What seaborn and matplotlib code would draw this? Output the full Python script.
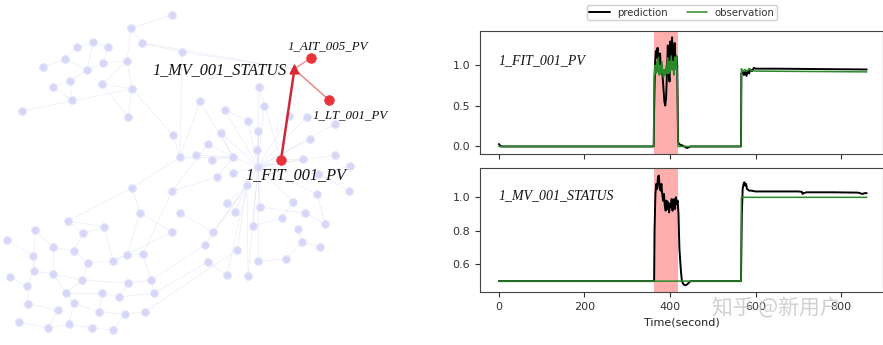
import numpy as np
import pandas as pd
import matplotlib
matplotlib.use("Agg")
import matplotlib.pyplot as plt
from matplotlib.collections import LineCollection
import seaborn as sns

sns.set_style("ticks")
plt.rcParams['font.family'] = ['DejaVu Sans']

# ---------------- network data (image-space coordinates) ----------------
node_x = [172, 131, 77, 93, 108, 142, 65, 43, 103, 127, 87, 70, 53, 102, 132, 72, 22, 128, 182, 173,
          259, 200, 264, 225, 289, 307, 248, 335, 221, 258, 310, 208, 257, 180, 196, 212, 233, 303, 335, 350,
          258, 217, 233, 247, 318, 317, 349, 132, 172, 140, 180, 227, 235, 260, 293, 305, 282, 253, 325, 298,
          172, 213, 302, 320, 205, 237, 208, 258, 286, 227, 248,
          68, 104, 35, 83, 7, 53, 74, 33, 88, 113, 127, 143, 34, 53, 10, 82, 128, 151, 27, 66,
          102, 119, 154, 28, 74, 58, 99, 125, 145, 19, 48, 69, 92, 113]
node_y = [15, 28, 47, 42, 47, 43, 59, 67, 63, 61, 70, 81, 87, 84, 89, 100, 111, 117, 52, 135,
          87, 101, 106, 110, 116, 117, 121, 124, 133, 131, 139, 144, 150, 157, 155, 160, 157, 159, 155, 166,
          167, 177, 173, 185, 174, 194, 191, 188, 191, 213, 213, 203, 212, 207, 202, 213, 218, 226, 224, 229,
          232, 232, 242, 247, 245, 250, 262, 261, 259, 275, 276,
          221, 227, 230, 233, 240, 247, 251, 256, 263, 261, 255, 254, 271, 274, 277, 280, 283, 280, 286, 293,
          293, 297, 293, 304, 303, 310, 312, 314, 312, 322, 328, 324, 328, 330]
edges = [(0, 1), (1, 5), (1, 9), (2, 3), (3, 4), (2, 6), (6, 7), (6, 10), (8, 9), (8, 10), (10, 11),
         (11, 12), (11, 15), (13, 14), (9, 14), (14, 17), (13, 17), (16, 14), (14, 19), (19, 33), (18, 33),
         (4, 8), (3, 10), (12, 15), (5, 18), (9, 13),
         (40, 20), (40, 22), (40, 23), (40, 26), (40, 28), (40, 29), (40, 32), (40, 36), (40, 37), (40, 42),
         (40, 43), (40, 44), (40, 45), (40, 53), (40, 54), (40, 57), (40, 67), (40, 70), (40, 30), (40, 24),
         (40, 25), (40, 38), (40, 27), (36, 31), (36, 34), (36, 35), (36, 33), (36, 41), (36, 21), (36, 28),
         (43, 51), (43, 52), (43, 61), (43, 64), (43, 65), (43, 69), (43, 70), (32, 29), (26, 23),
         (44, 46), (44, 39), (55, 58), (54, 56), (59, 62), (62, 63), (45, 58), (56, 57), (53, 55),
         (47, 71), (48, 82), (49, 81), (60, 80), (50, 61), (33, 47), (41, 48), (64, 88), (66, 93),
         (65, 99), (49, 60), (21, 33), (31, 48), (47, 49), (68, 62), (67, 68), (66, 69),
         (71, 72), (71, 74), (73, 76), (74, 77), (75, 78), (76, 77), (77, 79), (78, 83), (79, 80), (80, 81),
         (81, 82), (82, 88), (83, 84), (84, 86), (85, 89), (86, 87), (87, 88), (88, 93), (89, 94), (90, 91),
         (91, 92), (92, 93), (94, 96), (95, 97), (96, 101), (97, 98), (98, 99), (100, 101), (101, 102),
         (102, 103), (103, 104), (72, 80), (76, 84), (79, 86), (86, 90), (90, 95), (95, 102), (87, 92),
         (91, 97), (98, 104), (73, 83), (72, 74), (83, 89), (84, 90)]

red_names = ["1_AIT_005_PV", "1_MV_001_STATUS", "1_LT_001_PV", "1_FIT_001_PV"]
red_x = [311, 294, 329, 281]
red_y = [58, 69, 100, 160]

# ---------------- time-series data ----------------
noise_t = [363, 365, 367, 369, 371, 373, 375, 377, 379, 381, 383, 385, 387, 389,
           391, 393, 395, 397, 399, 401, 403, 405, 407, 409, 411, 413, 415, 417]
fit_pred_noise = [0.45, 1.0, 1.18, 1.1, 1.22, 1.05, 0.95, 1.15, 0.9, 1.0, 0.85, 0.7, 0.55, 0.5,
                  0.6, 0.9, 1.25, 0.95, 0.8, 1.3, 1.0, 1.35, 0.95, 1.1, 1.28, 1.05, 1.12, 1.0]
fit_obs_noise = [0.85, 1.0, 0.9, 1.05, 0.92, 1.1, 0.88, 1.0, 0.9, 1.05, 0.92, 0.85, 0.95, 0.88,
                 1.0, 0.9, 1.1, 0.9, 1.05, 0.92, 1.12, 0.95, 1.05, 0.88, 1.1, 0.95, 1.12, 0.9]

fit_pred_t = [0, 5, 362] + noise_t + [419, 421, 425, 430, 440, 448, 566, 567, 570, 573, 576, 579,
                                      582, 585, 588, 592, 596, 600, 650, 750, 860]
fit_pred_v = [0.02, -0.01, -0.01] + fit_pred_noise + [0.05, 0.02, 0.01, 0.0, -0.03, -0.01, -0.01, 0.9,
                                                      0.93, 0.88, 0.92, 0.87, 0.93, 0.9, 0.95, 0.93, 0.97,
                                                      0.96, 0.96, 0.955, 0.95]
fit_obs_t = [0, 362] + noise_t + [419, 566, 567, 570, 575, 580, 585, 590, 600, 860]
fit_obs_v = [-0.01, -0.01] + fit_obs_noise + [-0.01, -0.01, 0.96, 0.92, 0.95, 0.93, 0.96, 0.94, 0.93, 0.92]

mv_pred_t = [0, 363, 364, 366, 368, 370, 372, 374, 376, 378, 380, 382, 384, 386, 388, 390,
             392, 394, 396, 398, 400, 402, 404, 406, 408, 410, 412, 414, 416, 418,
             420, 422, 424, 426, 428, 432, 436, 440, 444, 448,
             566, 568, 570, 572, 574, 576, 578, 580, 585, 590, 600, 650, 700, 708,
             710, 712, 720, 780, 840, 850, 855, 860]
mv_pred_v = [0.5, 0.5, 0.8, 1.02, 1.08, 1.05, 1.12, 1.13, 1.06, 1.04, 1.08, 1.02, 0.98, 1.02, 0.95, 0.92,
             0.98, 0.93, 0.97, 0.91, 0.96, 0.94, 0.99, 0.92, 0.96, 0.99, 0.93, 1.0, 0.96, 0.98,
             0.9, 0.7, 0.62, 0.55, 0.5, 0.48, 0.475, 0.48, 0.49, 0.5,
             0.5, 0.9, 1.05, 1.08, 1.09, 1.07, 1.08, 1.05, 1.04, 1.04, 1.035, 1.035, 1.035, 1.033,
             1.02, 1.025, 1.03, 1.03, 1.028, 1.02, 1.025, 1.025]
mv_obs_t = [0, 566, 567, 860]
mv_obs_v = [0.5, 0.5, 1.0, 1.0]

anomaly = (363, 418)
xticks = [0, 200, 400, 600, 800]

# ---------------- figure ----------------
W, H = 883, 345
fig = plt.figure(figsize=(W / 100, H / 100), dpi=100)

# network panel
axn = fig.add_axes([0, 0, 440 / W, 1])
axn.set_xlim(0, 440)
axn.set_ylim(345, 0)
axn.axis("off")
segs = [[(node_x[a], node_y[a]), (node_x[b], node_y[b])] for a, b in edges]
axn.add_collection(LineCollection(segs, colors="#c8c8f0", linewidths=0.5, alpha=0.35, zorder=1))
extra = [[(node_x[5], node_y[5]), (red_x[1], red_y[1])], [(node_x[40], node_y[40]), (red_x[3], red_y[3])],
         [(node_x[20], node_y[20]), (red_x[3], red_y[3])], [(node_x[37], node_y[37]), (red_x[3], red_y[3])],
         [(node_x[18], node_y[18]), (red_x[1], red_y[1])]]
axn.add_collection(LineCollection(extra, colors="#c8c8f0", linewidths=0.5, alpha=0.35, zorder=1))
sns.scatterplot(x=node_x, y=node_y, ax=axn, s=30, color="#d6d6f8", edgecolor="#e2e2fa",
                linewidth=0.8, zorder=2, legend=False)
# red edges
axn.plot([red_x[0], red_x[1]], [red_y[0], red_y[1]], color="#ee9e9e", lw=1.2, zorder=3)
axn.plot([red_x[2], red_x[1]], [red_y[2], red_y[1]], color="#e49292", lw=1.2, zorder=3)
axn.plot([red_x[3], red_x[1]], [red_y[3], red_y[1] + 3], color="#cc2a38", lw=1.8, zorder=3)
sns.scatterplot(x=[red_x[0], red_x[2], red_x[3]], y=[red_y[0], red_y[2], red_y[3]], ax=axn, s=48,
                color="#e8333a", edgecolor="#e8333a", zorder=4, legend=False)
axn.scatter([red_x[1]], [red_y[1]], marker="^", s=40, color="#d82a36", zorder=4)
serif = ["Liberation Serif", "DejaVu Serif"]
axn.text(287, 70, red_names[1], ha="right", va="center", fontsize=11.7, style="italic", family=serif, color="#111")
axn.text(288, 46, red_names[0], ha="left", va="center", fontsize=9.3, style="italic", family=serif, color="#111")
axn.text(313, 115, red_names[2], ha="left", va="center", fontsize=9.3, style="italic", family=serif, color="#111")
axn.text(245, 175, red_names[3], ha="left", va="center", fontsize=11.7, style="italic", family=serif, color="#111")

# time-series panels
left = 480 / W
width = 1.0 - left
ax1 = fig.add_axes([left, 1 - 154 / H, width, (154 - 31) / H])
ax2 = fig.add_axes([left, 1 - 292 / H, width, (292 - 168) / H], sharex=ax1)

for ax, pt, pv, ot, ov in [(ax1, fit_pred_t, fit_pred_v, fit_obs_t, fit_obs_v),
                           (ax2, mv_pred_t, mv_pred_v, mv_obs_t, mv_obs_v)]:
    ax.axvspan(anomaly[0], anomaly[1], color="#ff4d4d", alpha=0.45, lw=0, zorder=0)
    sns.lineplot(x=pt, y=pv, ax=ax, color="black", lw=1.4, label="prediction", zorder=2)
    sns.lineplot(x=ot, y=ov, ax=ax, color="#2a8a2a", lw=1.1, label="observation", zorder=3)
    ax.tick_params(labelsize=8, colors="#333333", length=3.5)
    for s in ax.spines.values():
        s.set_color("#444444")
        s.set_linewidth(0.8)

handles, labels = ax1.get_legend_handles_labels()
ax1.get_legend().remove()
ax2.get_legend().remove()

ax1.set_xlim(-44, 898)
ax1.set_xticks(xticks)
ax1.tick_params(labelbottom=False)
ax1.set_ylim(-0.104, 1.43)
ax1.set_yticks([0.0, 0.5, 1.0])
ax2.set_ylim(0.435, 1.175)
ax2.set_yticks([0.6, 0.8, 1.0])
ax2.set_xlabel("Time(second)", fontsize=8, color="#222222")

ax1.text(0.045, 0.76, red_names[3], transform=ax1.transAxes, fontsize=10, style="italic",
         family=serif, va="center", color="#111")
ax2.text(0.045, 0.774, red_names[1], transform=ax2.transAxes, fontsize=10, style="italic",
         family=serif, va="center", color="#111")

leg = fig.legend(handles, labels, loc="upper center", bbox_to_anchor=(682 / W, 1.0), ncol=2,
                 fontsize=7.3, frameon=True, handlelength=2.0, columnspacing=1.8,
                 borderpad=0.25, framealpha=1, edgecolor="#d0d0d0")
for t in leg.get_texts():
    t.set_color("#333333")

fig.text(776 / W, 1 - 308 / H, "知乎 @新用户", ha="center", va="center", fontsize=15,
         family=["Noto Sans CJK SC", "DejaVu Sans"], color="#c8c8c8", alpha=0.85, zorder=10)

fig.savefig("out.png", dpi=100)
